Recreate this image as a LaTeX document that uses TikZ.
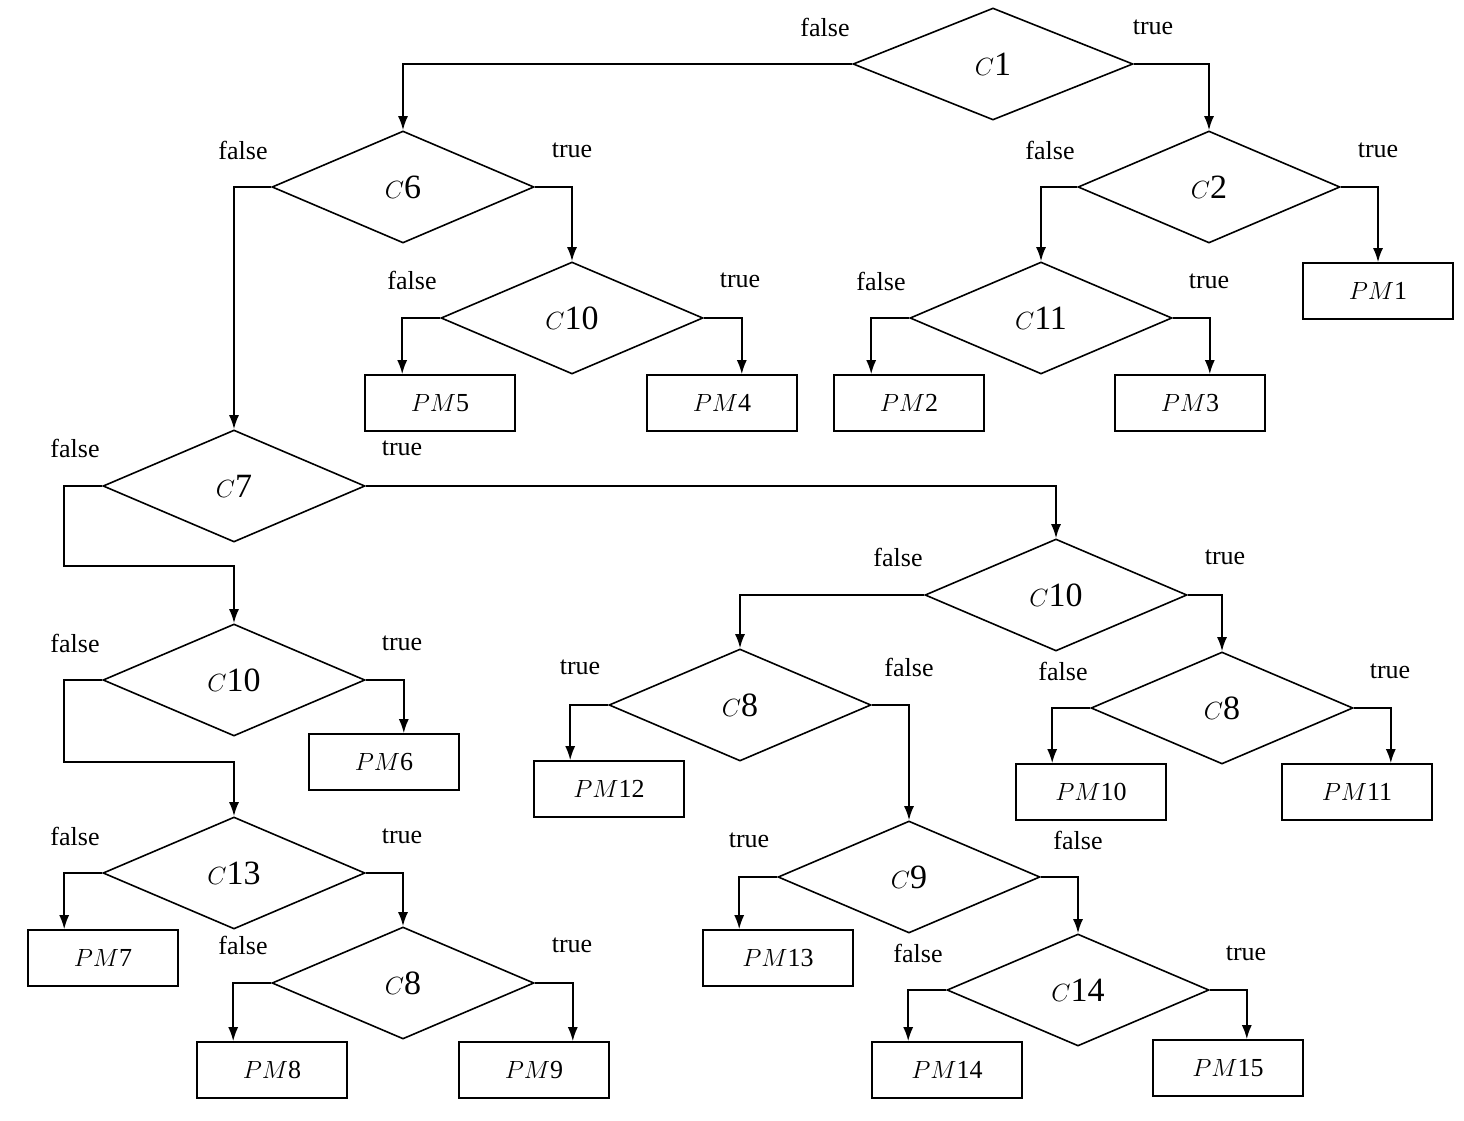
\documentclass[tikz,border=0pt]{standalone}
\usepackage{fontspec}
\setmainfont{Liberation Serif}
\usetikzlibrary{shapes.geometric,arrows.meta}
\begin{document}
\begin{tikzpicture}[x=1pt,y=-1pt,
 dia/.style={diamond,draw,line width=1.6pt,minimum width=262pt,minimum height=112pt,inner sep=0pt,font=\fontsize{34}{38}\selectfont},
 box/.style={rectangle,draw,line width=1.6pt,minimum width=150pt,minimum height=56pt,inner sep=0pt,font=\fontsize{26}{30}\selectfont},
 lab/.style={font=\fontsize{26}{30}\selectfont},
 arr/.style={line width=1.8pt,-{Latex[length=14pt,width=10pt]}}]
\useasboundingbox (0,0) rectangle (1464,1121);
% diamonds
\node[dia,minimum width=280pt] (C1) at (993,64) {$C$1};
\node[dia] (C6) at (403,187) {$C$6};
\node[dia] (C10a) at (572,318) {$C$10};
\node[dia] (C2) at (1209,187) {$C$2};
\node[dia] (C11) at (1041,318) {$C$11};
\node[dia] (C7) at (234,486) {$C$7};
\node[dia] (C10b) at (1056,595) {$C$10};
\node[dia] (C10c) at (234,680) {$C$10};
\node[dia] (C8a) at (740,705) {$C$8};
\node[dia] (C8b) at (1222,708) {$C$8};
\node[dia] (C13) at (234,873) {$C$13};
\node[dia] (C9) at (909,877) {$C$9};
\node[dia] (C8c) at (403,983) {$C$8};
\node[dia] (C14) at (1078,990) {$C$14};
% boxes
\node[box] (PM1) at (1378,291) {$PM$1};
\node[box] (PM5) at (440,403) {$PM$5};
\node[box] (PM4) at (722,403) {$PM$4};
\node[box] (PM2) at (909,403) {$PM$2};
\node[box] (PM3) at (1190,403) {$PM$3};
\node[box] (PM6) at (384,762) {$PM$6};
\node[box] (PM7) at (103,958) {$PM$7};
\node[box] (PM8) at (272,1070) {$PM$8};
\node[box] (PM9) at (534,1070) {$PM$9};
\node[box] (PM12) at (609,789) {$PM$12};
\node[box] (PM10) at (1091,792) {$PM$10};
\node[box] (PM11) at (1357,792) {$PM$11};
\node[box] (PM13) at (778,958) {$PM$13};
\node[box] (PM14) at (947,1070) {$PM$14};
\node[box] (PM15) at (1228,1068) {$PM$15};
% labels
\foreach \t/\x/\y/\n in {false/825/27/a,true/1153/27/b,false/243/150/c,true/572/150/d,false/412/280/e,true/740/280/f,
 false/1050/150/g,true/1378/150/h,false/881/281/i,true/1209/281/j,false/75/448/k,true/402/448/l,
 false/898/557/m,true/1225/557/n,true/580/667/o,false/909/667/p,false/1063/671/q,true/1390/671/r,
 false/75/643/s,true/402/643/t,false/75/836/u,true/402/836/v,false/243/945/w,true/572/945/x,
 true/749/840/y,false/1078/840/z,false/918/953/aa,true/1246/953/ab}
 \node[lab] (L\n) at (\x,\y) {\t};
% connectors
\draw[arr] (C1.west) -| (C6.north);
\draw[arr] (C1.east) -| (C2.north);
\draw[arr] (C6.west) -| (C7.north);
\draw[arr] (C6.east) -| (C10a.north);
\draw[arr] (C10a.west) -- ++(-38,0) coordinate (t1) -- (t1 |- PM5.north);
\draw[arr] (C10a.east) -- ++(38,0) coordinate (t2) -- (t2 |- PM4.north);
\draw[arr] (C2.west) -| (C11.north);
\draw[arr] (C2.east) -| (PM1.north);
\draw[arr] (C11.west) -- ++(-38,0) coordinate (t3) -- (t3 |- PM2.north);
\draw[arr] (C11.east) -- ++(37,0) coordinate (t4) -- (t4 |- PM3.north);
\draw[arr] (C7.west) -- ++(-38,0) -- ++(0,80) -| (C10c.north);
\draw[arr] (C7.east) -| (C10b.north);
\draw[arr] (C10c.west) -- ++(-38,0) -- ++(0,82) -| (C13.north);
\draw[arr] (C10c.east) -- ++(38,0) coordinate (t5) -- (t5 |- PM6.north);
\draw[arr] (C13.west) -- ++(-38,0) coordinate (t6) -- (t6 |- PM7.north);
\draw[arr] (C13.east) -| (C8c.north);
\draw[arr] (C8c.west) -- ++(-38,0) coordinate (t7) -- (t7 |- PM8.north);
\draw[arr] (C8c.east) -- ++(38,0) coordinate (t8) -- (t8 |- PM9.north);
\draw[arr] (C10b.west) -| (C8a.north);
\draw[arr] (C10b.east) -| (C8b.north);
\draw[arr] (C8a.west) -- ++(-38,0) coordinate (t9) -- (t9 |- PM12.north);
\draw[arr] (C8a.east) -| (C9.north);
\draw[arr] (C9.west) -- ++(-38,0) coordinate (t10) -- (t10 |- PM13.north);
\draw[arr] (C9.east) -| (C14.north);
\draw[arr] (C14.west) -- ++(-38,0) coordinate (t11) -- (t11 |- PM14.north);
\draw[arr] (C14.east) -- ++(37,0) coordinate (t12) -- (t12 |- PM15.north);
\draw[arr] (C8b.west) -- ++(-38,0) coordinate (t13) -- (t13 |- PM10.north);
\draw[arr] (C8b.east) -- ++(37,0) coordinate (t14) -- (t14 |- PM11.north);
\end{tikzpicture}
\end{document}
